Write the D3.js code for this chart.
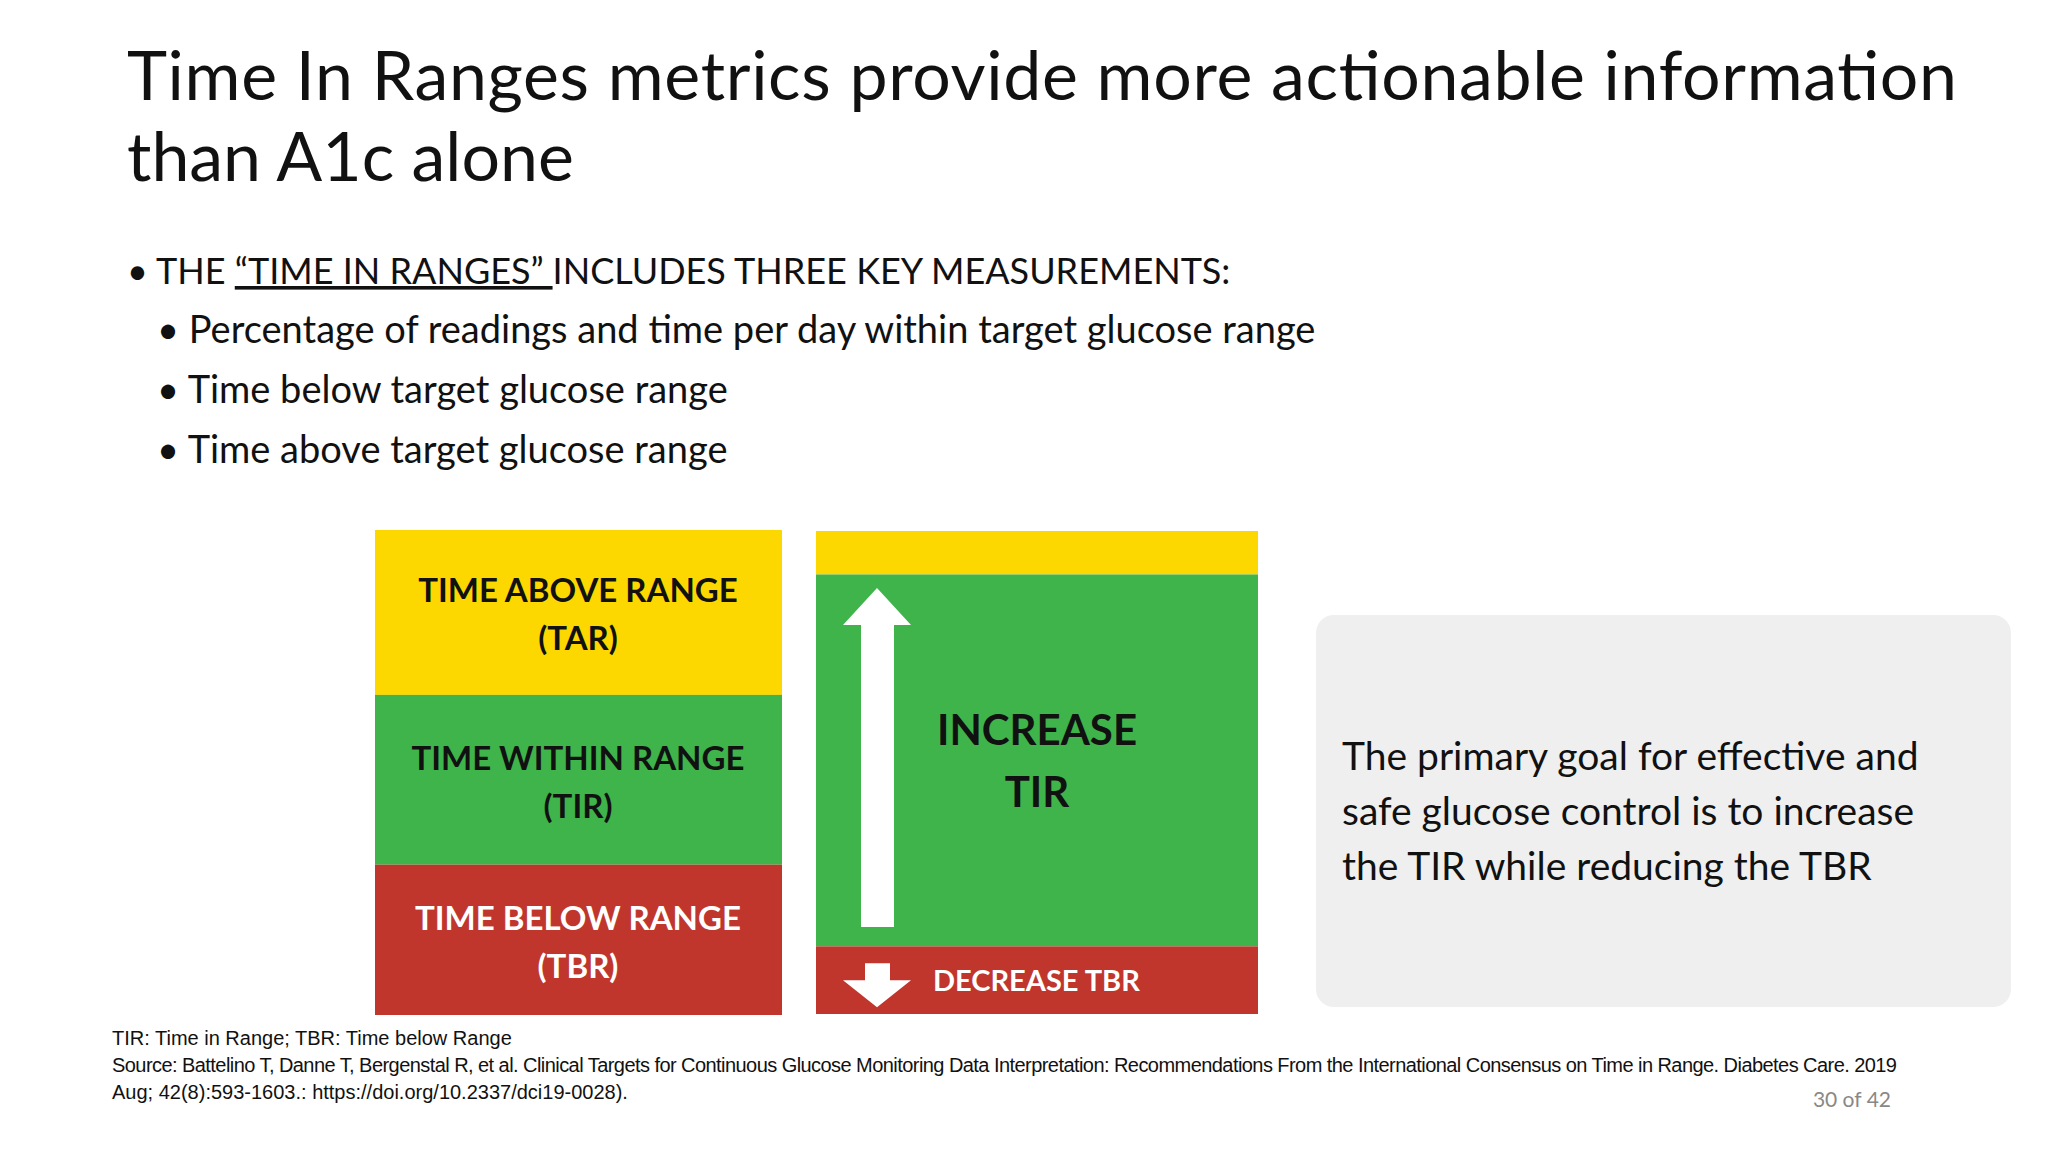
<!DOCTYPE html><html><head><meta charset="utf-8"><script src="https://cdn.jsdelivr.net/npm/d3@7"></script>
<style>body{margin:0;background:#fff}svg{display:block}</style></head><body><svg id="c" width="2048" height="1152"></svg>
<script>
const titleLines=["Time In Ranges metrics provide more actionable information","than A1c alone"];
const bullets=["Percentage of readings and time per day within target glucose range","Time below target glucose range","Time above target glucose range"];
const leftCats=["TAR","TIR","TBR"];
const leftShares=[34,35,31];
const leftLabels=[["TIME ABOVE RANGE","(TAR)"],["TIME WITHIN RANGE","(TIR)"],["TIME BELOW RANGE","(TBR)"]];
const rightShares=[9,77,14];
const colors=["#fcd800","#3fb44a","#c0362c"];
const textColors=["#111","#111","#fff"];
const footnotes=["TIR: Time in Range; TBR: Time below Range","Source: Battelino T, Danne T, Bergenstal  R, et al. Clinical Targets for Continuous Glucose Monitoring Data Interpretation: Recommendations From the International Consensus on Time in Range. Diabetes Care. 2019","Aug; 42(8):593-1603.: https://doi.org/10.2337/dci19-0028)."];
const svg=d3.select("#c");
const F="Lato, 'Open Sans', sans-serif";
titleLines.forEach((t,i)=>svg.append("text").attr("x",127).attr("y",100+i*81).attr("font-family",F).attr("font-size",68).attr("fill","#111").attr("textLength",i==0?1830:null).text(t));
const b0=svg.append("text").attr("x",127).attr("y",284).attr("font-family",F).attr("font-size",36).attr("fill","#111");
b0.append("tspan").text("•  THE ");
b0.append("tspan").attr("text-decoration","underline").text("“TIME IN RANGES” ");
b0.append("tspan").text("INCLUDES THREE KEY MEASUREMENTS:");
bullets.forEach((t,i)=>svg.append("text").attr("x",157).attr("y",343+i*60).attr("font-family",F).attr("font-size",38).attr("fill","#111").text("•  "+t));
// stacked columns
function stack(shares){let c=0;return shares.map(s=>{const r=[c,c+s];c+=s;return r;});}
const yL=d3.scaleLinear().domain([0,100]).range([530,1015]);
const yR=d3.scaleLinear().domain([0,100]).range([531,1014]);
const ls=stack(leftShares), rs=stack(rightShares);
const gL=svg.append("g");
ls.forEach((d,i)=>{
  gL.append("rect").attr("x",375).attr("width",407).attr("y",yL(d[0])).attr("height",yL(d[1])-yL(d[0])).attr("fill",colors[i]);
  const cy=(yL(d[0])+yL(d[1]))/2;
  leftLabels[i].forEach((l,j)=>gL.append("text").attr("x",578).attr("y",cy-10+j*48).attr("text-anchor","middle").attr("font-family",F).attr("font-weight","bold").attr("font-size",33).attr("fill",textColors[i]).text(l));
});
rs.forEach((d,i)=>svg.append("rect").attr("x",816).attr("width",442).attr("y",yR(d[0])).attr("height",yR(d[1])-yR(d[0])).attr("fill",colors[i]));
// up arrow
svg.append("path").attr("d","M861,927 V625 H843 L877,588 L911,625 H894 V927 Z").attr("fill","#fff");
// down arrow
const rc=(yR(rs[2][0])+yR(rs[2][1]))/2;
svg.append("path").attr("d",`M865,${rc-17} H890 V${rc} H911 L877,${rc+27} L843,${rc} H865 Z`).attr("fill","#fff");
svg.append("text").attr("x",1037).attr("y",745).attr("text-anchor","middle").attr("font-family",F).attr("font-weight","bold").attr("font-size",42).attr("fill","#111").text("INCREASE");
svg.append("text").attr("x",1037).attr("y",807).attr("text-anchor","middle").attr("font-family",F).attr("font-weight","bold").attr("font-size",42).attr("fill","#111").text("TIR");
svg.append("text").attr("x",933).attr("y",rc+11).attr("font-family",F).attr("font-weight","bold").attr("font-size",29).attr("fill","#fff").text("DECREASE TBR");
// gray box
svg.append("rect").attr("x",1316).attr("y",615).attr("width",695).attr("height",392).attr("rx",18).attr("fill","#efefef");
["The primary goal for effective and","safe glucose control is to increase","the TIR while reducing the TBR"].forEach((t,i)=>svg.append("text").attr("x",1342).attr("y",770+i*55).attr("font-family",F).attr("font-size",39).attr("fill","#111").text(t));
footnotes.forEach((t,i)=>svg.append("text").attr("x",112).attr("y",1045+i*27).attr("font-family","'Liberation Sans Narrow', 'Liberation Sans', sans-serif").attr("font-size",20).attr("fill","#111").attr("textLength",i==1?1785:null).text(t));
svg.append("text").attr("x",1891).attr("y",1107).attr("text-anchor","end").attr("font-family",F).attr("font-size",21).attr("fill","#888").text("30 of 42");
</script></body></html>
